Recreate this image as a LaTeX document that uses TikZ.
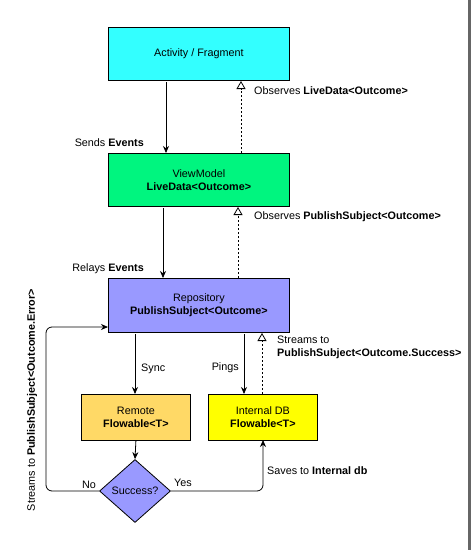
\documentclass[tikz,border=0pt]{standalone}
\usepackage{fontspec}
\setmainfont{Liberation Sans}
\usetikzlibrary{arrows.meta,shapes.geometric}
\definecolor{cact}{HTML}{33FFFF}
\definecolor{cvm}{HTML}{00F57F}
\definecolor{crepo}{HTML}{9999FF}
\definecolor{cremote}{HTML}{FFD966}
\definecolor{cdb}{HTML}{FFFF00}
\begin{document}
\begin{tikzpicture}[x=1pt,y=-1pt,
  every node/.style={font=\fontsize{10.8}{13}\selectfont, inner sep=0pt},
  box/.style={draw=black, line width=0.8pt, align=center, anchor=north west},
  lbl/.style={font=\fontsize{10.8}{13}\selectfont},
  flow/.style={draw=black, line width=0.8pt, -{Stealth[length=7pt,width=6pt]}},
  obs/.style={draw=black, line width=0.8pt, dashed, dash pattern=on 2pt off 2pt, -{Triangle[open,length=8pt,width=9pt]}}]
\useasboundingbox (0,0) rectangle (474,550);
\fill[white] (0,0) rectangle (474,550);
\fill[gray!80!black] (468,0) rectangle (471,550);

\node[box, fill=cact, minimum width=181pt, minimum height=53pt] (act) at (108,27) {Activity / Fragment};
\node[box, fill=cvm, minimum width=181pt, minimum height=53pt] (vm) at (108,153) {ViewModel\\\textbf{LiveData<Outcome>}};
\node[box, fill=crepo, minimum width=181pt, minimum height=54pt] (repo) at (108,278) {Repository\\\textbf{PublishSubject<Outcome>}};
\node[box, fill=cremote, minimum width=109pt, minimum height=46pt] (remote) at (81,394) {Remote\\\textbf{Flowable<T>}};
\node[box, fill=cdb, minimum width=109pt, minimum height=46pt] (db) at (208,394) {Internal DB\\\textbf{Flowable<T>}};
\node[diamond, draw=black, line width=0.8pt, fill=crepo, minimum width=71pt, minimum height=63pt, aspect=1.13] (succ) at (135,491) {Success?};

% top arrows
\coordinate (a1s) at (166,82);
\coordinate (a1e) at (166,153);
\draw[flow] (a1s) -- (a1e);
\coordinate (o1s) at (241,153);
\coordinate (o1e) at (241,81);
\draw[obs] (o1s) -- (o1e);
\coordinate (a2s) at (163,208);
\coordinate (a2e) at (163,278);
\draw[flow] (a2s) -- (a2e);
\coordinate (o2s) at (238,278);
\coordinate (o2e) at (238,207);
\draw[obs] (o2s) -- (o2e);
% repo to lower
\coordinate (a3s) at (135,334);
\coordinate (a3e) at (135,394);
\draw[flow] (a3s) -- (a3e);
\coordinate (a4s) at (244,334);
\coordinate (a4e) at (244,394);
\draw[flow] (a4s) -- (a4e);
\coordinate (o3s) at (262,394);
\coordinate (o3e) at (262,333);
\draw[obs] (o3s) -- (o3e);
\draw[flow] (remote.south) -- (succ.north);
% No loop
\draw[flow, rounded corners=6pt] (succ.west) -- (46,491) -- (46,327) -- (repo.west |- 0,327);
% Yes
\draw[flow, rounded corners=6pt] (succ.east) -- (263,491) -- (263,440);

% labels
\node[lbl, anchor=west] (l1) at (254,91) {Observes \textbf{LiveData<Outcome>}};
\node[lbl, anchor=east] (l2) at (144,143) {Sends \textbf{Events}};
\node[lbl, anchor=west] (l3) at (254,217) {Observes \textbf{PublishSubject<Outcome>}};
\node[lbl, anchor=east] (l4) at (144,269) {Relays \textbf{Events}};
\node[lbl, anchor=north west, align=left] (l5) at (277,336) {Streams to\\\textbf{PublishSubject<Outcome.Success>}};
\node[lbl, anchor=west] (l6) at (141,369) {Sync};
\node[lbl, anchor=east] (l7) at (239,368) {Pings};
\node[lbl, anchor=west] (l8) at (267,471) {Saves to \textbf{Internal db}};
\node[lbl] (l9) at (89,485) {No};
\node[lbl] (l10) at (183,483) {Yes};
\node[lbl, rotate=90] (l11) at (32,400) {Streams to \textbf{PublishSubject<Outcome.Error>}};
\end{tikzpicture}
\end{document}
